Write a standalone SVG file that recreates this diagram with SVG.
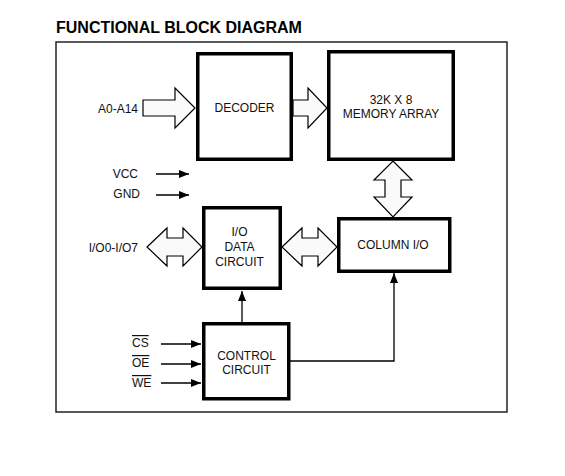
<svg xmlns="http://www.w3.org/2000/svg" width="565" height="476" viewBox="0 0 565 476">
<defs>
<marker id="ah" viewBox="0 0 10 8" refX="10" refY="4" markerWidth="10" markerHeight="8" markerUnits="userSpaceOnUse" orient="auto">
<path d="M0,0 L10,4 L0,8 Z" fill="#000"/>
</marker>
<style>
.t{font-family:"Liberation Sans",Arial,sans-serif;font-size:12px;fill:#111}
.title{font-family:"Liberation Sans",Arial,sans-serif;font-size:16px;font-weight:bold;fill:#000}
.box{fill:#fff;stroke:#000;stroke-width:3.5}
.fat{fill:#fafafa;stroke:#000;stroke-width:1.2;stroke-linejoin:miter}
.ln{fill:none;stroke:#000;stroke-width:1.3}
.ol{text-decoration:overline}
</style>
</defs>
<rect width="565" height="476" fill="#fff"/>
<text class="title" x="56" y="33">FUNCTIONAL BLOCK DIAGRAM</text>
<rect x="56" y="42" width="451" height="370" fill="none" stroke="#222" stroke-width="1.5"/>

<g id="decoder">
<rect class="box" x="197.75" y="53.75" width="93.5" height="105.5"/>
<text class="t" x="244.5" y="112" text-anchor="middle">DECODER</text>
</g>
<g id="memory">
<rect class="box" x="328.75" y="51.75" width="124.5" height="107.5"/>
<text class="t" x="391" y="104" text-anchor="middle">32K X 8</text>
<text class="t" x="391" y="118" text-anchor="middle">MEMORY ARRAY</text>
</g>
<g id="iodata">
<rect class="box" x="203.75" y="207.75" width="76.5" height="80.5"/>
<text class="t" x="239.5" y="236" text-anchor="middle">I/O</text>
<text class="t" x="239.5" y="251" text-anchor="middle">DATA</text>
<text class="t" x="239.5" y="266" text-anchor="middle">CIRCUIT</text>
</g>
<g id="columnio">
<rect class="box" x="338.75" y="218.75" width="111" height="52.5"/>
<text class="t" x="393" y="249" text-anchor="middle">COLUMN I/O</text>
</g>
<g id="control">
<rect class="box" x="203.75" y="323.75" width="85" height="75"/>
<text class="t" x="246.5" y="360" text-anchor="middle">CONTROL</text>
<text class="t" x="246.5" y="374" text-anchor="middle">CIRCUIT</text>
</g>

<g id="labels">
<text class="t" x="138" y="113" text-anchor="end">A0-A14</text>
<text class="t" x="138" y="178" text-anchor="end">VCC</text>
<text class="t" x="140" y="198" text-anchor="end">GND</text>
<text class="t" x="138" y="252" text-anchor="end">I/O0-I/O7</text>
<text class="t ol" x="132" y="347">CS</text>
<text class="t ol" x="132" y="367">OE</text>
<text class="t ol" x="132" y="387">WE</text>
</g>

<g id="connectors">
<polygon class="fat" points="143,100 175,100 175,88 195,108 175,128 175,116 143,116"/>
<polygon class="fat" points="293,100 308,100 308,88 327,108 308,128 308,116 293,116"/>
<polygon class="fat" points="393,161 412,180 401,180 401,197 412,197 393,217 374,197 385,197 385,180 374,180"/>
<polygon class="fat" points="282,247 302,228 302,238 318,238 318,228 337,247 318,266 318,256 302,256 302,266"/>
<polygon class="fat" points="147,247 167,228 167,238 183,238 183,228 202,247 183,266 183,256 167,256 167,266"/>
<line class="ln" x1="156" y1="174" x2="189" y2="174" marker-end="url(#ah)"/>
<line class="ln" x1="156" y1="195" x2="189" y2="195" marker-end="url(#ah)"/>
<line class="ln" x1="161" y1="344" x2="201" y2="344" marker-end="url(#ah)"/>
<line class="ln" x1="161" y1="364" x2="201" y2="364" marker-end="url(#ah)"/>
<line class="ln" x1="161" y1="383" x2="201" y2="383" marker-end="url(#ah)"/>
<line class="ln" x1="242" y1="322" x2="242" y2="291" marker-end="url(#ah)"/>
<polyline class="ln" points="290,361 394,361 394,273" marker-end="url(#ah)"/>
</g>
</svg>
